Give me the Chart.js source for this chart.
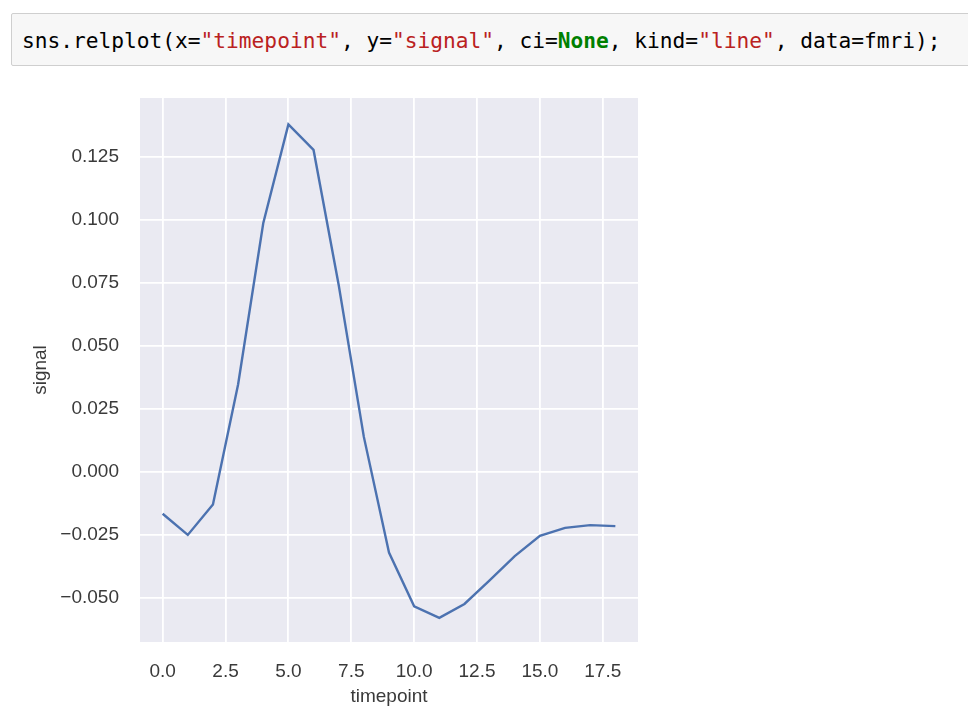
<!DOCTYPE html>
<html lang="en">
<head>
  <meta charset="UTF-8" />
  <title>fmri relplot</title>
  <script src="https://cdn.jsdelivr.net/npm/chart.js"></script>
  <style>
    html, body { margin: 0; padding: 0; background: #fff; width: 968px; height: 722px; overflow: hidden; }
    .cell {
      position: absolute; left: 11px; top: 13px; width: 980px; height: 53px;
      background: #f7f7f7; border: 1px solid #cfcfcf; border-radius: 2px;
      box-sizing: border-box;
    }
    .cell pre {
      margin: 0; padding-left: 10px; line-height: 53px;
      font-family: "DejaVu Sans Mono", monospace; font-size: 21.2px; color: #000;
    }
    .s { color: #ba2121; }
    .k { color: #008000; font-weight: bold; }
    .plot { position: absolute; left: 0; top: 80px; width: 660px; height: 642px; }
  </style>
</head>
<body>
  <div class="cell"><pre>sns.relplot(x=<span class="s">"timepoint"</span>, y=<span class="s">"signal"</span>, ci=<span class="k">None</span>, kind=<span class="s">"line"</span>, data=fmri);</pre></div>

  <div class="plot"><canvas id="chart"></canvas></div>

  <script>
    // data
    const timepoints = [0, 1, 2, 3, 4, 5, 6, 7, 8, 9, 10, 11, 12, 13, 14, 15, 16, 17, 18];
    const signal = [-0.0166, -0.0250, -0.0129, 0.0347, 0.0987, 0.1379, 0.1278, 0.0742, 0.0139,
                    -0.0320, -0.0533, -0.0579, -0.0524, -0.0430, -0.0334, -0.0254, -0.0222, -0.0211, -0.0215];
    const xTicks = [0, 2.5, 5, 7.5, 10, 12.5, 15, 17.5];
    const yTicks = [-0.05, -0.025, 0, 0.025, 0.05, 0.075, 0.1, 0.125];

    const textColor = '#3a3a3a';
    const font = { family: 'Liberation Sans, Arial, sans-serif', size: 19 };

    // fill the plot area like seaborn darkgrid
    const plotBg = {
      id: 'plotBg',
      beforeDraw(chart) {
        const { ctx, chartArea: a } = chart;
        ctx.save();
        ctx.fillStyle = '#eaeaf2';
        ctx.fillRect(a.left, a.top, a.right - a.left, a.bottom - a.top);
        ctx.restore();
      }
    };

    const fmt = v => {
      const s = Math.abs(v).toFixed(3);
      return (v < -1e-9 ? '\u2212' : '') + s;
    };

    new Chart(document.getElementById('chart'), {
      type: 'line',
      data: {
        datasets: [{
          data: timepoints.map((t, i) => ({ x: t, y: signal[i] })),
          borderColor: '#4c72b0',
          borderWidth: 2.4,
          pointRadius: 0,
          tension: 0,
          fill: false
        }]
      },
      options: {
        responsive: true,
        maintainAspectRatio: false,
        animation: false,
        layout: { padding: { left: 0, right: 22, top: 18, bottom: 0 } },
        plugins: { legend: { display: false }, tooltip: { enabled: false } },
        scales: {
          x: {
            type: 'linear',
            min: -0.9,
            max: 18.9,
            afterBuildTicks: s => { s.ticks = xTicks.map(v => ({ value: v })); },
            afterFit: s => { s.height = 80; },
            ticks: {
              color: textColor, font: font, padding: 18, maxRotation: 0,
              callback: v => v.toFixed(1)
            },
            grid: { color: '#ffffff', lineWidth: 1.8, drawTicks: false },
            border: { display: false },
            title: { display: true, text: 'timepoint', color: textColor, font: font, padding: { top: 0, bottom: 14 } }
          },
          y: {
            min: -0.0675,
            max: 0.1484,
            afterBuildTicks: s => { s.ticks = yTicks.map(v => ({ value: v })); },
            // drop the label half-height padding so the plot starts at the top padding
            afterFit: s => { s.width = 140; s.paddingTop = 0; s.paddingBottom = 0; },
            ticks: { color: textColor, font: font, padding: 21, callback: v => fmt(v) },
            grid: { color: '#ffffff', lineWidth: 1.8, drawTicks: false },
            border: { display: false },
            title: { display: true, text: 'signal', color: textColor, font: font, padding: { top: 29 } }
          }
        }
      },
      plugins: [plotBg]
    });
  </script>
</body>
</html>
